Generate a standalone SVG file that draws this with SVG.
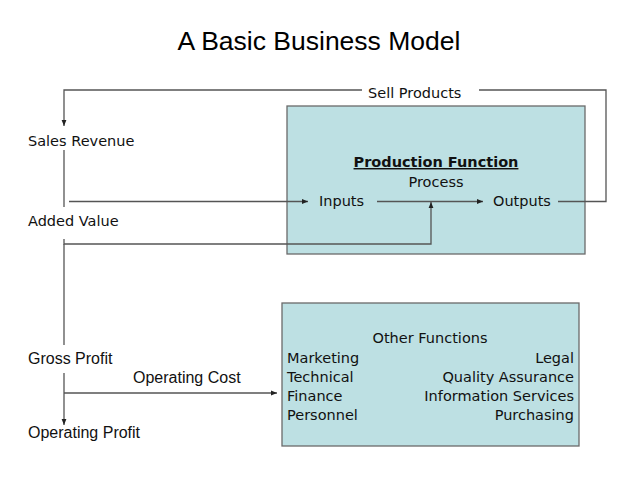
<svg xmlns="http://www.w3.org/2000/svg" width="638" height="478" viewBox="0 0 638 478">
<defs>
<marker id="ah" viewBox="0 0 10 10" refX="10" refY="5" markerWidth="6" markerHeight="6" orient="auto" markerUnits="userSpaceOnUse">
<path d="M0,1 L10,5 L0,9 z" fill="#222"/>
</marker>
<style>
.box{fill:#bde0e3;stroke:#6a6a6a;stroke-width:1.3}
.ln{fill:none;stroke:#555;stroke-width:1.3}
.c{font-family:"DejaVu Sans","Open Sans",sans-serif;font-size:14.5px;fill:#111}
.a{font-family:"Liberation Sans",Arial,sans-serif;font-size:16px;fill:#111}
.t{font-family:"Liberation Sans",Arial,sans-serif;font-size:26.5px;fill:#000}
</style>
</defs>
<rect width="638" height="478" fill="#fff"/>
<text class="t" x="319" y="50" text-anchor="middle">A Basic Business Model</text>

<g id="production">
<rect class="box" x="287" y="106" width="298" height="148"/>
<text class="c" x="436" y="167" text-anchor="middle" font-weight="bold" text-decoration="underline">Production Function</text>
<text class="c" x="436" y="187" text-anchor="middle">Process</text>
<text class="c" x="319" y="206">Inputs</text>
<text class="c" x="493" y="206">Outputs</text>
</g>

<g id="other">
<rect class="box" x="282" y="303" width="297" height="143"/>
<text class="c" x="430" y="343" text-anchor="middle">Other Functions</text>
<text class="c" x="287" y="363">Marketing</text>
<text class="c" x="287" y="382">Technical</text>
<text class="c" x="287" y="401">Finance</text>
<text class="c" x="287" y="420">Personnel</text>
<text class="c" x="574" y="363" text-anchor="end">Legal</text>
<text class="c" x="574" y="382" text-anchor="end">Quality Assurance</text>
<text class="c" x="574" y="401" text-anchor="end">Information Services</text>
<text class="c" x="574" y="420" text-anchor="end">Purchasing</text>
</g>

<g id="labels">
<text class="c" x="28" y="146">Sales Revenue</text>
<text class="c" x="28" y="226">Added Value</text>
<text class="c" x="368" y="98">Sell Products</text>
<text class="a" x="28" y="364">Gross Profit</text>
<text class="a" x="133" y="383">Operating Cost</text>
<text class="a" x="28" y="438">Operating Profit</text>
</g>

<g id="connectors">
<polyline class="ln" points="558,201.5 606,201.5 606,90 479,90"/>
<polyline class="ln" points="362,90 64,90 64,126" marker-end="url(#ah)"/>
<line class="ln" x1="64" y1="150" x2="64" y2="207"/>
<line class="ln" x1="69" y1="201.5" x2="308" y2="201.5" marker-end="url(#ah)"/>
<line class="ln" x1="377" y1="201.5" x2="483" y2="201.5" marker-end="url(#ah)"/>
<polyline class="ln" points="64,239 64,244 431,244 431,202" marker-end="url(#ah)"/>
<line class="ln" x1="64" y1="244" x2="64" y2="345"/>
<line class="ln" x1="64" y1="373" x2="64" y2="425" marker-end="url(#ah)"/>
<line class="ln" x1="64" y1="393" x2="277" y2="393" marker-end="url(#ah)"/>
</g>
</svg>
